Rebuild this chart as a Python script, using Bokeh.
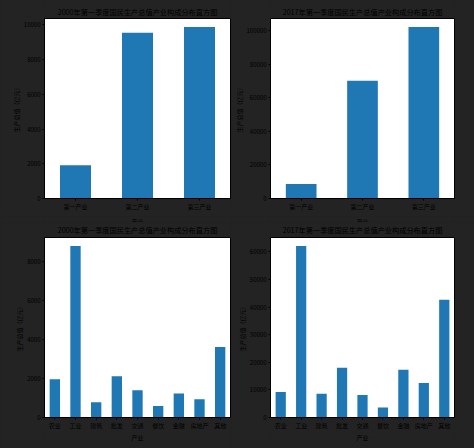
from bokeh.plotting import figure
from bokeh.layouts import row, column
from bokeh.models import FactorRange, Range1d, FixedTicker, BasicTickFormatter, Label
from bokeh.embed import file_html
from bokeh.resources import INLINE

# ---- data ----
sectors = ["第一产业", "第二产业", "第三产业"]
gdp_2000_sector = [1908.3, 9548.0, 9873.6]
gdp_2017_sector = [8654.0, 70005.0, 102024.0]

industries = ["农业", "工业", "建筑", "批发", "交通", "餐饮", "金融", "房地产", "其他"]
gdp_2000_industry = [1966, 8814, 780, 2119, 1407, 593, 1237, 932, 3627]
gdp_2017_industry = [9200, 62130, 8600, 18040, 8125, 3585, 17320, 12545, 42650]

title_2000 = "2000年第一季度国民生产总值产业构成分布直方图"
title_2017 = "2017年第一季度国民生产总值产业构成分布直方图"
x_label = "产业"
y_label = "生产总值（亿元）"

ticks_2000_sector = [0, 2000, 4000, 6000, 8000, 10000]
ticks_2017_sector = [0, 20000, 40000, 60000, 80000, 100000]
ticks_2000_industry = [0, 2000, 4000, 6000, 8000]
ticks_2017_industry = [0, 10000, 20000, 30000, 40000, 50000, 60000]

BG = "#232323"
BAR = "#1f77b4"
FONT = "Noto Sans CJK SC"
TXT = "black"


def strip(text, w, h, left, right, cy, size):
    """A thin text-only canvas whose frame lines up with the plot frame below/above."""
    fw = w - left - right
    s = figure(width=w, height=h, x_range=Range1d(0, fw), y_range=Range1d(0, h),
               x_axis_location=None, y_axis_location=None,
               output_backend="svg", toolbar_location=None,
               min_border_left=left, min_border_right=right,
               min_border_top=0, min_border_bottom=0)
    s.outline_line_color = None
    s.background_fill_color = BG
    s.border_fill_color = BG
    s.grid.visible = False
    s.add_layout(Label(x=fw / 2, y=cy, text=text, text_font=FONT, text_color=TXT,
                       text_font_size=size, text_align="center",
                       text_baseline="middle"))
    return s


def plot(cats, vals, ticks, w, h, left, right, top, bottom):
    ymax = max(vals) * 1.05
    p = figure(
        x_range=FactorRange(*cats, range_padding=0),
        y_range=Range1d(0, ymax),
        width=w, height=h,
        output_backend="svg", toolbar_location=None,
        min_border_left=left, min_border_right=right,
        min_border_top=top, min_border_bottom=bottom,
    )
    p.vbar(x=cats, top=vals, width=0.5, fill_color=BAR, line_color=None)
    p.background_fill_color = "white"
    p.border_fill_color = BG
    p.outline_line_color = "black"
    p.outline_line_width = 1
    p.grid.visible = False

    for ax in (p.xaxis[0], p.yaxis[0]):
        ax.major_label_text_font = FONT
        ax.major_label_text_font_size = "6px"
        ax.major_label_text_color = TXT
        ax.axis_line_color = "black"
        ax.major_tick_line_color = "black"
        ax.major_tick_out = 2
        ax.major_tick_in = 0
        ax.minor_tick_line_color = None
        ax.major_label_standoff = 1

    p.yaxis.major_label_standoff = 2
    p.yaxis.ticker = FixedTicker(ticks=ticks)
    p.yaxis.formatter = BasicTickFormatter(use_scientific=False)
    p.yaxis.major_label_orientation = "horizontal"
    p.yaxis.axis_label = y_label
    p.yaxis.axis_label_text_font = FONT
    p.yaxis.axis_label_text_font_size = "6px"
    p.yaxis.axis_label_text_font_style = "normal"
    p.yaxis.axis_label_text_color = TXT
    p.yaxis.axis_label_standoff = 0
    return p


# left column: width 231 (frame 44..230); right column: width 243 (frame 268..454)
LW, RW = 231, 243
LL, LR = 44, 1
RL, RR = 37, 20

tl_title = strip(title_2000, LW, 16, LL, LR, 5, "7.2px")
tl = plot(sectors, gdp_2000_sector, ticks_2000_sector, LW, 197, LL, LR, 2, 13)
tl_x = strip(x_label, LW, 9, LL, LR, 4.5, "6px")
bl_title = strip(title_2000, LW, 13, LL, LR, 5.5, "7.2px")
bl = plot(industries, gdp_2000_industry, ticks_2000_industry, LW, 197, LL, LR, 2, 13)
bl_x = strip(x_label, LW, 16, LL, LR, 11.5, "6px")

tr_title = strip(title_2017, RW, 16, RL, RR, 5, "7.2px")
tr = plot(sectors, gdp_2017_sector, ticks_2017_sector, RW, 197, RL, RR, 2, 13)
tr_x = strip(x_label, RW, 9, RL, RR, 4.5, "6px")
br_title = strip(title_2017, RW, 13, RL, RR, 5.5, "7.2px")
br = plot(industries, gdp_2017_industry, ticks_2017_industry, RW, 197, RL, RR, 2, 13)
br_x = strip(x_label, RW, 16, RL, RR, 11.5, "6px")

left_col = column(tl_title, tl, tl_x, bl_title, bl, bl_x, spacing=0)
right_col = column(tr_title, tr, tr_x, br_title, br, br_x, spacing=0)
layout = row(left_col, right_col, spacing=0)

html = file_html(layout, INLINE)
html = html.replace(
    "<head>",
    "<head><style>html,body{background:%s;overflow:hidden;}</style>" % BG,
    1,
)
open("out.html", "w").write(html)
